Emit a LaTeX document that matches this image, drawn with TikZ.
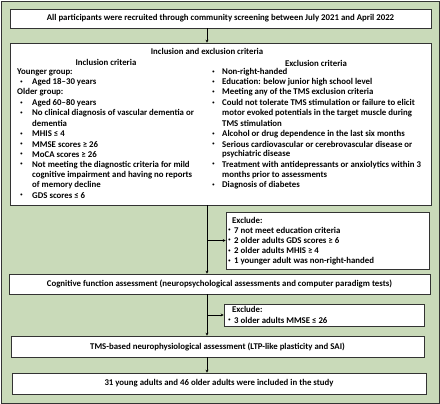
\documentclass[tikz,border=0pt]{standalone}
\usepackage{fontspec}
\setmainfont{Carlito}
\usepackage{tikz}
\usetikzlibrary{positioning, arrows.meta, calc}
\definecolor{sage}{RGB}{201,218,185}

\begin{document}
\begin{tikzpicture}[
  x=1pt, y=-1pt,
  font=\fontsize{8.8}{10}\selectfont\bfseries,
  box/.style={draw=black!80, fill=white, line width=0.6pt, inner sep=0pt},
  lab/.style={anchor=west, inner sep=0pt},
  bul/.style={inner sep=0pt, font=\fontsize{5.5}{6}\selectfont},
  arr/.style={-{Stealth[length=3pt, width=3pt]}, line width=0.6pt},
]
  % Frame: 1 unit = 1 px of the 440 x 404 figure, y grows downwards
  \useasboundingbox (0,0) rectangle (440,404);
  \fill[sage, draw=black!80, line width=0.8pt] (1,1) rectangle (439,403);
  \coordinate (spine) at (207,0);

  % Main boxes (centre, width, height)
  \node[box, minimum width=421, minimum height=19] (recruit) at (220.5,18.5)
    {All participants were recruited through community screening between July 2021 and April 2022};
  \node[box, minimum width=421, minimum height=162] (criteria) at (220.5,124) {};
  \node[box, minimum width=203, minimum height=57] (excl1) at (327.5,240.5) {};
  \node[box, minimum width=421, minimum height=20] (cog) at (219.5,284)
    {Cognitive function assessment (neuropsychological assessments and computer paradigm tests)};
  \node[box, minimum width=200, minimum height=22] (excl2) at (324,315) {};
  \node[box, minimum width=413, minimum height=21] (tms) at (217.5,346.5)
    {TMS-based neurophysiological assessment (LTP-like plasticity and SAI)};
  \node[box, minimum width=414, minimum height=21] (final) at (219,383.5)
    {31 young adults and 46 older adults were included in the study};

  % Criteria headings
  \node[inner sep=0pt] (crit) at (207,51) {Inclusion and exclusion criteria};
  \node[inner sep=0pt] (inchead) at (106,62) {Inclusion criteria};
  \node[inner sep=0pt] (exchead) at (316,63) {Exclusion criteria};

  % Inclusion list (row, kind h/b/c, text)
  \foreach \r/\k/\t in {%
    0/h/{Younger group:},%
    1/b/{Aged 18--30 years},%
    2/h/{Older group:},%
    3/b/{Aged 60--80 years},%
    4/b/{No clinical diagnosis of vascular dementia or},%
    5/c/{dementia},%
    6/b/{MHIS ≤ 4},%
    7/b/{MMSE scores ≥ 26},%
    8/b/{MoCA scores ≥ 26},%
    9/b/{Not meeting the diagnostic criteria for mild},%
    10/c/{cognitive impairment and having no reports},%
    11/c/{of memory decline},%
    12/b/{GDS scores ≤ 6}%
  }{
    \if\k h
      \node[lab] (inc\r) at (17, 72+\r*10.3) {\t};
    \else
      \node[lab] (inc\r) at (32, 72+\r*10.3) {\t};
      \if\k b\node[bul] at (21.5, 72+\r*10.3) {\textbullet};\fi
    \fi
  }

  % Exclusion list
  \foreach \r/\k/\t in {%
    0/b/{Non-right-handed},%
    1/b/{Education: below junior high school level},%
    2/b/{Meeting any of the TMS exclusion criteria},%
    3/b/{Could not tolerate TMS stimulation or failure to elicit},%
    4/c/{motor evoked potentials in the target muscle during},%
    5/c/{TMS stimulation},%
    6/b/{Alcohol or drug dependence in the last six months},%
    7/b/{Serious cardiovascular or cerebrovascular disease or},%
    8/c/{psychiatric disease},%
    9/b/{Treatment with antidepressants or anxiolytics within 3},%
    10/c/{months prior to assessments},%
    11/b/{Diagnosis of diabetes}%
  }{
    \node[lab] (exc\r) at (222, 72+\r*10.3) {\t};
    \if\k b\node[bul] at (213.5, 72+\r*10.3) {\textbullet};\fi
  }

  % Exclude boxes
  \node[lab] (ex1head) at (232,220) {Exclude:};
  \foreach \r/\t in {%
    1/{7 not meet education criteria},%
    2/{2 older adults GDS scores ≥ 6},%
    3/{2 older adults MHIS ≥ 4},%
    4/{1 younger adult was non-right-handed}%
  }{
    \node[lab] (ex1\r) at (234, 220+\r*10.3) {\t};
    \node[bul] at (229.5, 220+\r*10.3) {\textbullet};
  }
  \node[lab] (ex2head) at (232,309.5) {Exclude:};
  \node[lab] (ex21) at (234,320) {3 older adults MMSE ≤ 26};
  \node[bul] at (229.5,320) {\textbullet};

  % Connectors
  \draw[arr] (recruit.south -| spine) -- (criteria.north -| spine);
  \draw[arr] (criteria.south -| spine) -- (cog.north -| spine);
  \draw[arr] (excl1.west -| spine) -- (excl1.west);
  \draw[arr] (cog.south -| spine) -- (tms.north -| spine);
  \draw[arr] (excl2.west -| spine) -- (excl2.west);
  \draw[arr] (tms.south -| spine) -- (final.north -| spine);
\end{tikzpicture}
\end{document}
